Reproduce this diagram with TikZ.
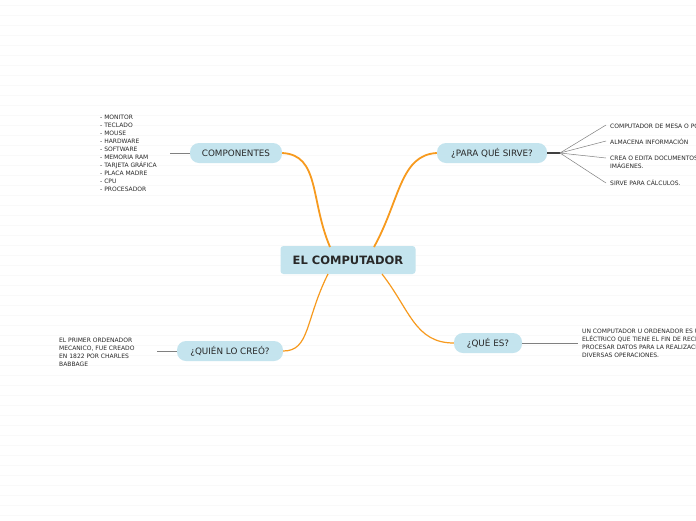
\documentclass[tikz,border=0pt]{standalone}
\usepackage{fontspec}
\setmainfont{DejaVu Sans}
\definecolor{nodeblue}{RGB}{196,228,238}
\definecolor{orng}{RGB}{247,154,30}
\definecolor{txt}{RGB}{40,40,40}
\begin{document}
\begin{tikzpicture}[x=1pt,y=-1pt,
  topic/.style={fill=nodeblue,rounded corners=9pt,minimum height=20pt,font=\fontsize{8.8}{10}\selectfont,text=txt,inner sep=0pt},
  small/.style={font=\fontsize{6}{8}\selectfont,text=txt,align=left,anchor=west,inner sep=0pt},
  branch/.style={orng,line width=1.2pt},
  thin/.style={gray,line width=0.5pt}]
\useasboundingbox (0,0) rectangle (696,520);
\clip (0,0) rectangle (696,520);
\fill[white] (0,0) rectangle (696,520);
\foreach \k in {0,...,51} \draw[gray!5,line width=0.5pt] (0,5+10*\k) -- (696,5+10*\k);
\node[topic,minimum width=135pt,minimum height=28pt,rounded corners=3pt,font=\bfseries\fontsize{11.5}{13}\selectfont] (c) at (348,260) {EL COMPUTADOR};
\node[topic,minimum width=92pt] (comp) at (236,153) {COMPONENTES};
\node[topic,minimum width=110pt] (para) at (492,153) {¿PARA QUÉ SIRVE?};
\node[topic,minimum width=68pt] (que) at (488,343) {¿QUÉ ES?};
\node[topic,minimum width=106pt] (quien) at (230,351) {¿QUIÉN LO CREÓ?};
\draw[branch,line width=1.8pt] (330,247) .. controls (310,200) and (320,155) .. (comp.east);
\draw[branch,line width=1.8pt] (374,247) .. controls (400,200) and (400,155) .. (para.west);
\draw[branch] (382,274) .. controls (410,310) and (415,343) .. (que.west);
\draw[branch] (328,274) .. controls (305,320) and (310,351) .. (quien.east);
\coordinate (cl) at (170,153);
\draw[thin] (comp.west) -- (cl);
\node[small] (list) at (100,153) {- MONITOR\\- TECLADO\\- MOUSE\\- HARDWARE\\- SOFTWARE\\- MEMORIA RAM\\- TARJETA GRÁFICA\\- PLACA MADRE\\- CPU\\- PROCESADOR};
\coordinate (h) at (560,153);
\draw[black!75,line width=1.2pt] (para.east) -- (h);
\node[small] (p1) at (610,126) {COMPUTADOR DE MESA O PORTÁTIL};
\node[small] (p2) at (610,142) {ALMACENA INFORMACIÓN};
\node[small] (p3) at (610,162) {CREA O EDITA DOCUMENTOS E\\IMÁGENES.};
\node[small] (p4) at (610,183) {SIRVE PARA CÁLCULOS.};
\foreach \p/\y in {p1/125,p2/141,p3/158,p4/183} \draw[thin] (h) -- (606,\y);
\draw[thin] (que.east) -- (578,343);
\node[small] (qt) at (582,343) {UN COMPUTADOR U ORDENADOR ES UN APARATO\\ELÉCTRICO QUE TIENE EL FIN DE RECIBIR Y\\PROCESAR DATOS PARA LA REALIZACIÓN DE\\DIVERSAS OPERACIONES.};
\draw[thin] (quien.west) -- (157,351);
\node[small] (wt) at (59,352) {EL PRIMER ORDENADOR\\MECANICO, FUE CREADO\\EN 1822 POR CHARLES\\BABBAGE};
\end{tikzpicture}
\end{document}
